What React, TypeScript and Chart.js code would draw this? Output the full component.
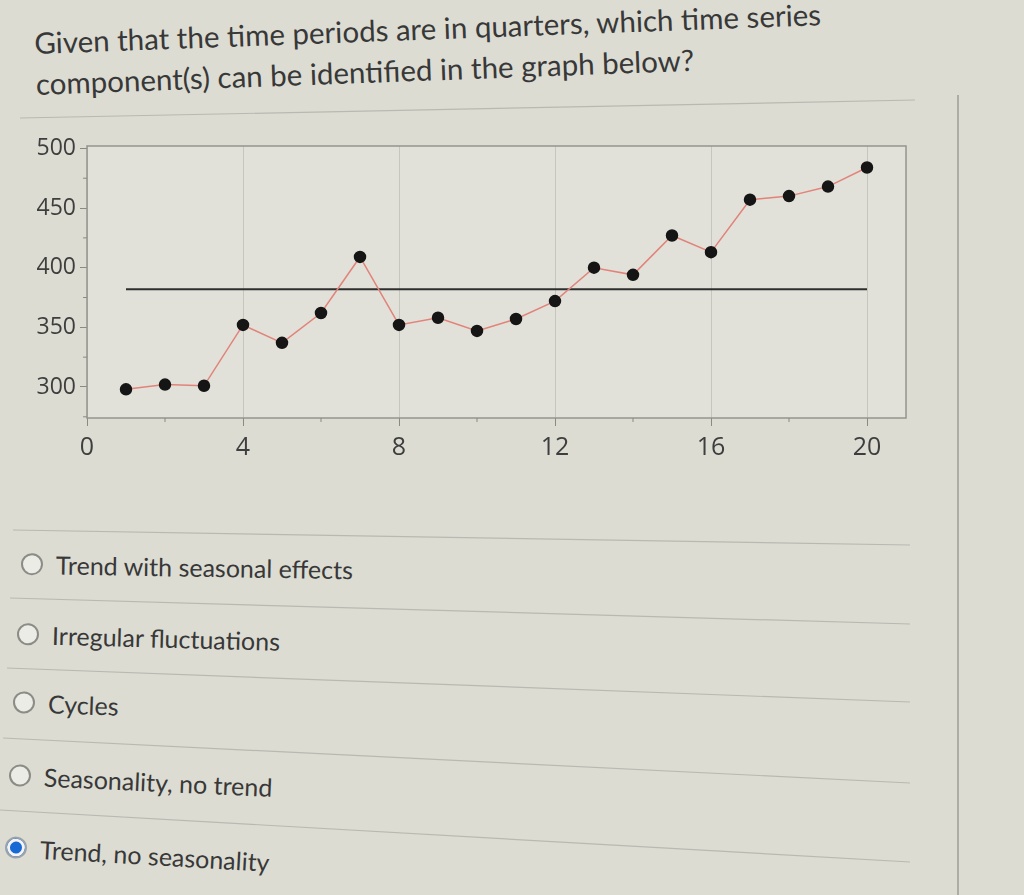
import { Chart, registerables } from "chart.js";
import { useEffect, useRef } from "react";

Chart.register(...registerables);

const quarters = [1, 2, 3, 4, 5, 6, 7, 8, 9, 10, 11, 12, 13, 14, 15, 16, 17, 18, 19, 20];
const observed = [298, 302, 301, 352, 337, 362, 409, 352, 358, 347, 357, 372, 400, 394, 427, 413, 457, 460, 468, 484];
const meanLevel = 382;
const xTickValues = [0, 4, 8, 12, 16, 20];
const xMinorTicks = [2, 6, 10, 14, 18];
const yTickValues = [300, 350, 400, 450, 500];
const yMinorTicks = [275, 325, 375, 425, 475];

const choices = [
  "Trend with seasonal effects",
  "Irregular fluctuations",
  "Cycles",
  "Seasonality, no trend",
  "Trend, no seasonality",
];
const selectedChoice = 4;

const PAGE_BG = "#dcdcd3";

// plot frame, minor ticks, background of the plot area
const framePlugin = {
  id: "frame",
  beforeDraw(chart: any) {
    const { ctx, chartArea } = chart;
    ctx.save();
    ctx.fillStyle = "#e1e1d9";
    ctx.fillRect(chartArea.left, chartArea.top, chartArea.width, chartArea.height);
    ctx.restore();
  },
  afterDraw(chart: any) {
    const { ctx, chartArea, scales } = chart;
    ctx.save();
    ctx.strokeStyle = "#94948e";
    ctx.lineWidth = 1.5;
    ctx.strokeRect(chartArea.left, chartArea.top, chartArea.width, chartArea.height);
    ctx.lineWidth = 1;
    ctx.strokeStyle = "#8a8a84";
    ctx.beginPath();
    xMinorTicks.forEach((v) => {
      const px = scales.x.getPixelForValue(v);
      ctx.moveTo(px, chartArea.bottom);
      ctx.lineTo(px, chartArea.bottom + 4);
    });
    yMinorTicks.forEach((v) => {
      const py = scales.y.getPixelForValue(v);
      ctx.moveTo(chartArea.left, py);
      ctx.lineTo(chartArea.left - 4, py);
    });
    ctx.stroke();
    ctx.restore();
  },
};

function SeriesChart() {
  const chartRef = useRef<HTMLCanvasElement | null>(null);
  useEffect(() => {
    const ctx = chartRef.current?.getContext("2d");
    if (!ctx) return;

    const chart = new Chart(ctx, {
      type: "line",
      data: {
        datasets: [
          {
            label: "series",
            data: quarters.map((q, i) => ({ x: q, y: observed[i] })),
            borderColor: "#e2837a",
            borderWidth: 1.5,
            pointRadius: 5.5,
            pointBackgroundColor: "#151515",
            pointBorderColor: "#151515",
            order: 1,
          },
          {
            label: "mean",
            data: [
              { x: quarters[0], y: meanLevel },
              { x: quarters[quarters.length - 1], y: meanLevel },
            ],
            borderColor: "#2e2e2e",
            borderWidth: 2,
            pointRadius: 0,
            order: 2,
          },
        ],
      },
      options: {
        animation: false,
        responsive: true,
        maintainAspectRatio: false,
        layout: { padding: { top: 26, right: 24, bottom: 0, left: 0 } },
        plugins: {
          legend: { display: false },
          tooltip: { enabled: false },
        },
        scales: {
          x: {
            type: "linear",
            min: 0,
            max: 21,
            afterBuildTicks: (scale: any) => {
              scale.ticks = xTickValues.map((v) => ({ value: v }));
            },
            afterFit: (scale: any) => {
              scale.height = 62;
            },
            grid: {
              color: "#c6c6be",
              tickColor: "#8a8a84",
              tickLength: 8,
            },
            border: { display: false },
            ticks: {
              color: "#3e3e3e",
              padding: 7,
              font: { family: "Open Sans", size: 25 },
            },
          },
          y: {
            type: "linear",
            min: 274,
            max: 502,
            afterBuildTicks: (scale: any) => {
              scale.ticks = yTickValues.map((v) => ({ value: v }));
            },
            afterFit: (scale: any) => {
              scale.width = 87;
            },
            grid: {
              drawOnChartArea: false,
              tickColor: "#8a8a84",
              tickLength: 7,
            },
            border: { display: false },
            ticks: {
              color: "#3e3e3e",
              padding: 4,
              font: { family: "Open Sans", size: 23 },
            },
          },
        },
      },
      plugins: [framePlugin],
    });
    return () => chart.destroy();
  }, []);

  return (
    <div style={{ position: "absolute", left: 0, top: 120, width: 930, height: 360 }}>
      <canvas ref={chartRef}></canvas>
    </div>
  );
}

// separator lines, slanted like in the photo
const separators = [
  [20, 118, 915, 100],
  [13, 530, 910, 545],
  [10, 598, 910, 624],
  [7, 668, 910, 702],
  [3, 738, 910, 783],
  [0, 810, 910, 862],
];
const choiceRows = [
  { x: 32, y: 564, tilt: 0.9 },
  { x: 28, y: 634, tilt: 1.5 },
  { x: 24, y: 702, tilt: 2 },
  { x: 20, y: 775, tilt: 2.6 },
  { x: 16, y: 847, tilt: 3.2 },
];

export default function App() {
  return (
    <div
      style={{
        position: "absolute",
        left: 0,
        top: 0,
        width: 1024,
        height: 895,
        background: PAGE_BG,
        overflow: "hidden",
        fontFamily: "Lato, sans-serif",
        color: "#383838",
      }}
    >
      <svg width={1024} height={895} style={{ position: "absolute", left: 0, top: 0 }}>
        {separators.map(([x1, y1, x2, y2], i) => (
          <line key={i} x1={x1} y1={y1} x2={x2} y2={y2} stroke="#b9b9b2" strokeWidth={1.2} />
        ))}
        <line x1={958} y1={95} x2={958} y2={895} stroke="#8e8e88" strokeWidth={1.2} />
      </svg>

      <div
        style={{
          position: "absolute",
          left: 35,
          top: 22,
          fontSize: 29.5,
          lineHeight: "41px",
          transform: "rotate(-2.1deg)",
          transformOrigin: "0 50%",
          whiteSpace: "nowrap",
        }}
      >
        <div>Given that the time periods are in quarters, which time series</div>
        <div>component(s) can be identified in the graph below?</div>
      </div>

      <SeriesChart />

      {choices.map((label, i) => {
        const row = choiceRows[i];
        const on = i === selectedChoice;
        return (
          <div
            key={label}
            style={{
              position: "absolute",
              left: row.x - 11,
              top: row.y - 15,
              height: 30,
              display: "flex",
              alignItems: "center",
              whiteSpace: "nowrap",
              fontSize: 25,
              transform: `rotate(${row.tilt}deg)`,
              transformOrigin: "0 50%",
            }}
          >
            <span
              style={{
                width: 18,
                height: 18,
                borderRadius: "50%",
                border: on ? "2px solid #9aa3ad" : "2px solid #8c8c86",
                background: on ? "#1769d6" : "#ecece6",
                boxShadow: on ? "inset 0 0 0 3px #f4f4f4" : "none",
                marginRight: 13,
                flex: "none",
              }}
            />
            <span>{label}</span>
          </div>
        );
      })}
    </div>
  );
}
